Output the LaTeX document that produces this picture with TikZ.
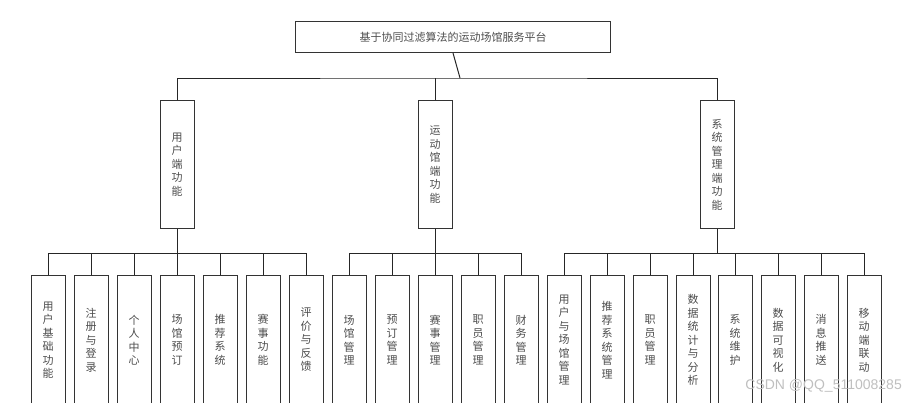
\documentclass[tikz,border=0pt]{standalone}
\usepackage{fontspec}
\newfontfamily\cjk{Noto Sans CJK SC}
\begin{document}
\begin{tikzpicture}[x=1pt,y=-1pt,
  box/.style={draw=black!80,line width=1pt},
  lbl/.style={font=\cjk\fontsize{11}{13.5}\selectfont,text=black!70,align=center,inner sep=0pt},
  ln/.style={draw=black!85,line width=1pt}]
\useasboundingbox (0,0) rectangle (905,402);
\node[box,lbl,minimum width=315,minimum height=31,anchor=north west] (top) at (295,21) {基于协同过滤算法的运动场馆服务平台};
\coordinate (tb) at (460,78);
\draw[ln] (top.south) -- (tb);
\foreach \n/\x/\t in {a/177/{用\\户\\端\\功\\能},b/435/{运\\动\\馆\\端\\功\\能},c/717/{系\\统\\管\\理\\端\\功\\能}}{
  \node[box,minimum width=34,minimum height=128,anchor=north] (\n) at (\x,100) {};
  \node[lbl] at (\n.center) {\t};
}
\draw[ln] (a.north) |- (tb) -| (c.north);
\draw[ln] (b.north) -- (b.north|-tb);
% leaves
\foreach \i/\x/\t in {1/48/{用\\户\\基\\础\\功\\能},2/91/{注\\册\\与\\登\\录},3/134/{个\\人\\中\\心},4/177/{场\\馆\\预\\订},5/220/{推\\荐\\系\\统},6/263/{赛\\事\\功\\能},7/306/{评\\价\\与\\反\\馈},
  8/349/{场\\馆\\管\\理},9/392/{预\\订\\管\\理},10/435/{赛\\事\\管\\理},11/478/{职\\员\\管\\理},12/521/{财\\务\\管\\理},
  13/564/{用\\户\\与\\场\\馆\\管\\理},14/607/{推\\荐\\系\\统\\管\\理},15/650/{职\\员\\管\\理},16/693/{数\\据\\统\\计\\与\\分\\析},17/735/{系\\统\\维\\护},18/778/{数\\据\\可\\视\\化},19/821/{消\\息\\推\\送},20/864/{移\\动\\端\\联\\动}}{
  \draw[box] (\x-17,406) -- (\x-17,275) -- (\x+17,275) -- (\x+17,406);
  \coordinate (l\i) at (\x,275);
  \node[lbl] at (\x,340) {\t};
}
\draw[ln] (a.south) -- (a.south|-,253);
\draw[ln] (l1) |- (l7|-,253) -- (l7);
\foreach \i in {2,...,6}{\draw[ln] (l\i) -- ++(0,-22);}
\draw[ln] (b.south) -- (b.south|-,253);
\draw[ln] (l8) |- (l12|-,253) -- (l12);
\foreach \i in {9,...,11}{\draw[ln] (l\i) -- ++(0,-22);}
\draw[ln] (c.south) -- (c.south|-,253);
\draw[ln] (l13) |- (l20|-,253) -- (l20);
\foreach \i in {14,...,19}{\draw[ln] (l\i) -- ++(0,-22);}
\node[font=\fontspec{Liberation Sans}\fontsize{14}{14}\selectfont,text=black!25,anchor=east,inner sep=0pt] (wm) at (902,386) {CSDN @QQ\_511008285};
\end{tikzpicture}
\end{document}
